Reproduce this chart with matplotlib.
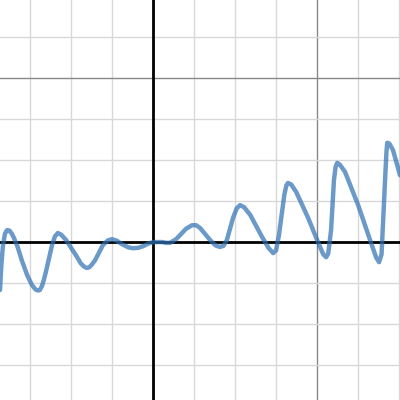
import matplotlib
matplotlib.use("Agg")
import matplotlib.pyplot as plt

xs = [-3.73,-3.70,-3.66,-3.61,-3.56,-3.50,-3.44,-3.39,-3.30,-3.20,-3.07,-2.95,-2.86,-2.80,-2.76,-2.71,-2.66,-2.61,-2.46,-2.39,-2.32,-2.24,-2.12,-1.88,-1.76,-1.68,-1.62,-1.56,-1.50,-1.41,-1.22,-1.10,-1.00,-0.88,-0.76,-0.60,-0.49,-0.36,-0.24,-0.12,0.0,0.22,0.32,0.41,0.55,0.66,0.80,0.95,1.05,1.15,1.39,1.52,1.63,1.72,1.80,1.95,2.04,2.12,2.22,2.37,2.66,2.82,2.93,3.00,3.07,3.20,3.25,3.29,3.37,3.49,3.78,4.02,4.15,4.22,4.27,4.34,4.41,4.45,4.49,4.56,4.68,5.00,5.29,5.44,5.51,5.57,5.61,5.66,5.69,5.71,5.76,5.85,6.02]
ys = [-1.17,-0.60,-0.10,0.20,0.29,0.28,0.20,0.10,-0.12,-0.44,-0.80,-1.05,-1.16,-1.18,-1.17,-1.08,-0.92,-0.72,-0.07,0.14,0.22,0.18,0.05,-0.32,-0.52,-0.60,-0.63,-0.62,-0.56,-0.44,-0.07,0.04,0.07,0.03,-0.05,-0.13,-0.15,-0.14,-0.10,-0.04,0.0,0.0,-0.02,-0.02,0.06,0.17,0.32,0.41,0.41,0.34,0.05,-0.08,-0.12,-0.09,0.05,0.59,0.82,0.90,0.85,0.66,0.12,-0.15,-0.27,-0.20,0.17,1.15,1.38,1.44,1.40,1.22,0.59,0.0,-0.30,-0.37,-0.28,0.29,1.51,1.83,1.93,1.88,1.71,0.90,0.05,-0.38,-0.49,-0.30,0.54,1.60,2.20,2.42,2.40,2.24,1.63]

fig = plt.figure(figsize=(4, 4), dpi=100)
ax = fig.add_axes([0, 0, 1, 1])
ax.set_xlim(-3.73, 6.02)
ax.set_ylim(-3.85, 5.90)
for v in range(-3, 7):
    major = v % 4 == 0 and v != 0
    ax.axvline(v, color='#888888' if major else '#d8d8d8', lw=1.0, zorder=0)
for v in range(-3, 6):
    major = v % 4 == 0 and v != 0
    ax.axhline(v, color='#888888' if major else '#d8d8d8', lw=1.0, zorder=0)
ax.axhline(0, color='black', lw=2, zorder=1)
ax.axvline(0, color='black', lw=2, zorder=1)
ax.plot(xs, ys, color='#2d70b3', alpha=0.7, lw=3.2, solid_joinstyle='round', solid_capstyle='round', zorder=2)
ax.axis('off')
fig.savefig('out.png', dpi=100)
